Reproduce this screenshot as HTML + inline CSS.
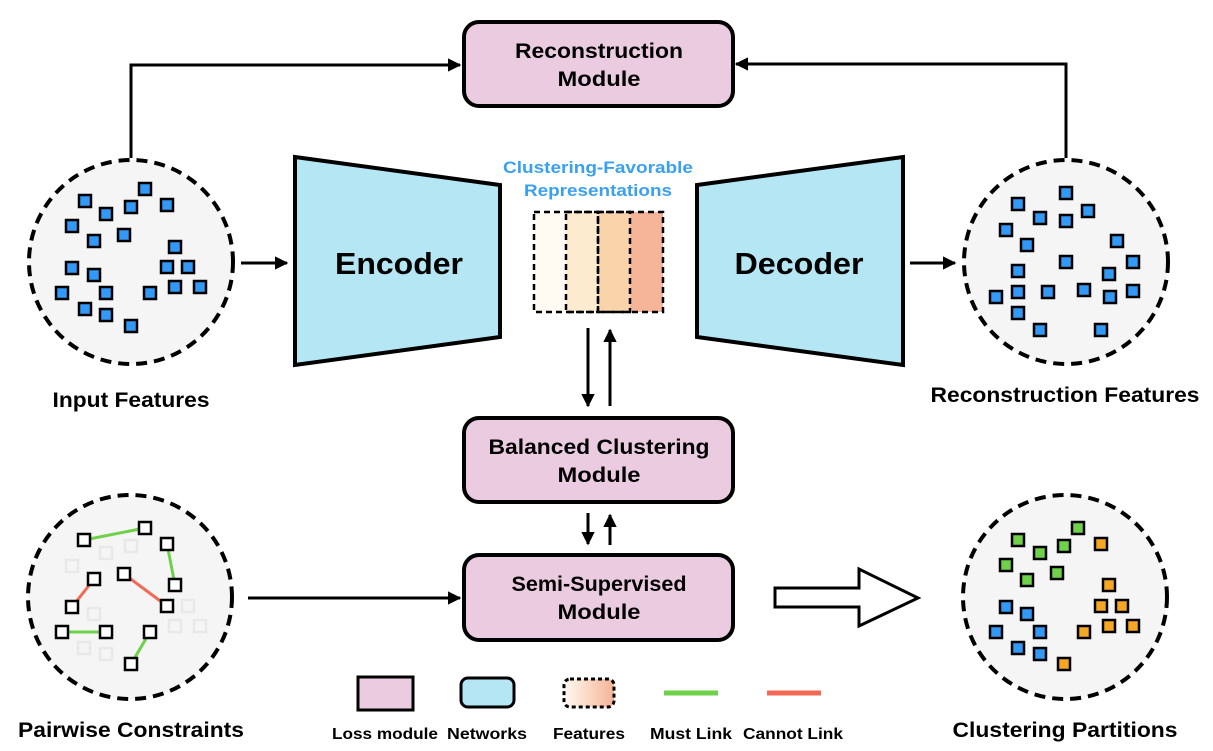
<!DOCTYPE html>
<html><head><meta charset="utf-8"><style>
html,body{margin:0;padding:0;background:#fff;}
svg{display:block;font-family:"Liberation Sans",Arial,sans-serif;font-weight:bold;}
</style></head><body>
<svg width="1213" height="751" viewBox="0 0 1213 751" xmlns="http://www.w3.org/2000/svg">
<defs>
<marker id="ah" viewBox="0 0 10 10" refX="9" refY="5" markerWidth="4.5" markerHeight="4.5" orient="auto"><path d="M0,0 L10,5 L0,10 z" fill="#000"/></marker>
<linearGradient id="fg" x1="0" x2="1"><stop offset="0" stop-color="#fffaf2"/><stop offset="1" stop-color="#f5b496"/></linearGradient>
</defs>

<g fill="#f5f5f5" stroke="#000" stroke-width="4" stroke-dasharray="11,7">
<circle cx="131" cy="262" r="102"/>
<circle cx="1066" cy="262" r="102"/>
<circle cx="130" cy="597" r="102"/>
<circle cx="1065" cy="597" r="102"/>
</g>

<g fill="#3399f7" stroke="#000" stroke-width="2.5">
<rect x="139" y="183" width="12" height="12"/><rect x="79" y="195" width="12" height="12"/><rect x="125" y="201" width="12" height="12"/><rect x="161" y="199" width="12" height="12"/><rect x="100" y="208" width="12" height="12"/><rect x="66" y="220" width="12" height="12"/><rect x="118" y="229" width="12" height="12"/><rect x="88" y="235" width="12" height="12"/><rect x="169" y="241" width="12" height="12"/><rect x="66" y="262" width="12" height="12"/><rect x="88" y="269" width="12" height="12"/><rect x="161" y="261" width="12" height="12"/><rect x="182" y="261" width="12" height="12"/><rect x="56" y="287" width="12" height="12"/><rect x="100" y="287" width="12" height="12"/><rect x="144" y="287" width="12" height="12"/><rect x="169" y="281" width="12" height="12"/><rect x="194" y="281" width="12" height="12"/><rect x="79" y="303" width="12" height="12"/><rect x="100" y="309" width="12" height="12"/><rect x="125" y="320" width="12" height="12"/>
</g>
<g fill="#3399f7" stroke="#000" stroke-width="2.5">
<rect x="1060" y="187" width="12" height="12"/><rect x="1012" y="198" width="12" height="12"/><rect x="1082" y="205" width="12" height="12"/><rect x="1034" y="212" width="12" height="12"/><rect x="1060" y="215" width="12" height="12"/><rect x="1000" y="224" width="12" height="12"/><rect x="1021" y="239" width="12" height="12"/><rect x="1111" y="235" width="12" height="12"/><rect x="1060" y="256" width="12" height="12"/><rect x="1127" y="256" width="12" height="12"/><rect x="1012" y="265" width="12" height="12"/><rect x="1103" y="268" width="12" height="12"/><rect x="1012" y="286" width="12" height="12"/><rect x="1042" y="286" width="12" height="12"/><rect x="1078" y="284" width="12" height="12"/><rect x="1127" y="285" width="12" height="12"/><rect x="990" y="291" width="12" height="12"/><rect x="1104" y="291" width="12" height="12"/><rect x="1012" y="307" width="12" height="12"/><rect x="1034" y="324" width="12" height="12"/><rect x="1095" y="324" width="12" height="12"/>
</g>

<g fill="none" stroke="#e8e8e8" stroke-width="2.5">
<rect x="100" y="547" width="12" height="12"/><rect x="125" y="540" width="12" height="12"/><rect x="66" y="560" width="12" height="12"/><rect x="88" y="608" width="12" height="12"/><rect x="182" y="600" width="12" height="12"/><rect x="169" y="620" width="12" height="12"/><rect x="194" y="620" width="12" height="12"/><rect x="78" y="642" width="12" height="12"/><rect x="100" y="648" width="12" height="12"/>
</g>
<g stroke-width="3">
<line x1="84" y1="540" x2="145" y2="528" stroke="#6fd14a"/>
<line x1="167" y1="544" x2="175" y2="585" stroke="#6fd14a"/>
<line x1="62" y1="632" x2="106" y2="632" stroke="#6fd14a"/>
<line x1="150" y1="632" x2="131" y2="664" stroke="#6fd14a"/>
<line x1="94" y1="579" x2="72" y2="607" stroke="#f26a55"/>
<line x1="124" y1="574" x2="167" y2="606" stroke="#f26a55"/>
</g>
<g fill="#fff" stroke="#000" stroke-width="2.5">
<rect x="78" y="534" width="12" height="12"/><rect x="139" y="522" width="12" height="12"/><rect x="161" y="538" width="12" height="12"/><rect x="169" y="579" width="12" height="12"/><rect x="118" y="568" width="12" height="12"/><rect x="161" y="600" width="12" height="12"/><rect x="88" y="573" width="12" height="12"/><rect x="66" y="601" width="12" height="12"/><rect x="56" y="626" width="12" height="12"/><rect x="100" y="626" width="12" height="12"/><rect x="144" y="626" width="12" height="12"/><rect x="125" y="658" width="12" height="12"/>
</g>

<g stroke="#000" stroke-width="2.5">
<g fill="#6fd14a"><rect x="1072" y="522" width="12" height="12"/><rect x="1012" y="534" width="12" height="12"/><rect x="1058" y="540" width="12" height="12"/><rect x="1034" y="547" width="12" height="12"/><rect x="1000" y="559" width="12" height="12"/><rect x="1051" y="567" width="12" height="12"/><rect x="1021" y="574" width="12" height="12"/></g>
<g fill="#f5a623"><rect x="1095" y="538" width="12" height="12"/><rect x="1103" y="579" width="12" height="12"/><rect x="1095" y="600" width="12" height="12"/><rect x="1116" y="600" width="12" height="12"/><rect x="1103" y="620" width="12" height="12"/><rect x="1127" y="620" width="12" height="12"/><rect x="1078" y="626" width="12" height="12"/><rect x="1058" y="658" width="12" height="12"/></g>
<g fill="#3399f7"><rect x="1000" y="601" width="12" height="12"/><rect x="1021" y="608" width="12" height="12"/><rect x="990" y="626" width="12" height="12"/><rect x="1034" y="626" width="12" height="12"/><rect x="1012" y="642" width="12" height="12"/><rect x="1034" y="648" width="12" height="12"/></g>
</g>

<polygon points="295,157 500,185 500,337 295,365" fill="#b5e6f4" stroke="#000" stroke-width="4"/>
<polygon points="697,185 903,157 903,365 697,337" fill="#b5e6f4" stroke="#000" stroke-width="4"/>
<text x="399" y="274" font-size="31" text-anchor="middle" textLength="128" lengthAdjust="spacingAndGlyphs">Encoder</text>
<text x="799" y="274" font-size="31" text-anchor="middle" textLength="129" lengthAdjust="spacingAndGlyphs">Decoder</text>

<rect x="534" y="212" width="32" height="100" fill="#fffaf2"/>
<rect x="566" y="212" width="32" height="100" fill="#fdebd0"/>
<rect x="598" y="212" width="32" height="100" fill="#f9d3a9"/>
<rect x="630" y="212" width="33" height="100" fill="#f6b498"/>
<g fill="none" stroke="#000" stroke-width="2.5" stroke-dasharray="6,4">
<rect x="534" y="212" width="64" height="100"/>
<rect x="566" y="212" width="64" height="100"/>
<rect x="598" y="212" width="65" height="100"/>
</g>
<text x="598" y="173" font-size="17" fill="#3aa0ef" text-anchor="middle" textLength="190" lengthAdjust="spacingAndGlyphs">Clustering-Favorable</text>
<text x="598" y="196" font-size="17" fill="#3aa0ef" text-anchor="middle" textLength="148" lengthAdjust="spacingAndGlyphs">Representations</text>

<g fill="#ebcbe0" stroke="#000" stroke-width="4">
<rect x="464" y="22" width="269" height="84" rx="15"/>
<rect x="464" y="418" width="269" height="84" rx="15"/>
<rect x="464" y="555" width="269" height="85" rx="15"/>
</g>
<g font-size="21" text-anchor="middle" lengthAdjust="spacingAndGlyphs">
<text x="599" y="58" textLength="168" lengthAdjust="spacingAndGlyphs">Reconstruction</text><text x="599" y="86" textLength="83" lengthAdjust="spacingAndGlyphs">Module</text>
<text x="599" y="454" textLength="221" lengthAdjust="spacingAndGlyphs">Balanced Clustering</text><text x="599" y="482" textLength="83" lengthAdjust="spacingAndGlyphs">Module</text>
<text x="599" y="591" textLength="175" lengthAdjust="spacingAndGlyphs">Semi-Supervised</text><text x="599" y="619" textLength="83" lengthAdjust="spacingAndGlyphs">Module</text>
</g>

<g fill="none" stroke="#000" stroke-width="3" marker-end="url(#ah)">
<polyline points="131,158 131,65 460,65"/>
<polyline points="1066,158 1066,64 736,64"/>
<line x1="241" y1="263" x2="287" y2="263"/>
<line x1="910" y1="263" x2="955" y2="263"/>
<line x1="588" y1="328" x2="588" y2="406"/>
<line x1="610" y1="406" x2="610" y2="330"/>
<line x1="588" y1="513" x2="588" y2="544"/>
<line x1="610" y1="545" x2="610" y2="515"/>
<line x1="248" y1="598" x2="460" y2="598"/>
</g>
<polygon points="775,588 859,588 859,569 918,598 859,626 859,607 775,607" fill="#fff" stroke="#000" stroke-width="3"/>

<g font-size="21" text-anchor="middle">
<text x="131" y="407" textLength="157" lengthAdjust="spacingAndGlyphs">Input Features</text>
<text x="1065" y="402" textLength="269" lengthAdjust="spacingAndGlyphs">Reconstruction Features</text>
<text x="131" y="737" textLength="226" lengthAdjust="spacingAndGlyphs">Pairwise Constraints</text>
<text x="1065" y="737" textLength="225" lengthAdjust="spacingAndGlyphs">Clustering Partitions</text>
</g>

<rect x="358" y="677" width="55" height="33" fill="#ebcbe0" stroke="#000" stroke-width="3"/>
<rect x="461" y="678" width="53" height="29" rx="7" fill="#b5e6f4" stroke="#000" stroke-width="3"/>
<rect x="564" y="679" width="50" height="28" rx="6" fill="url(#fg)" stroke="#000" stroke-width="3" stroke-dasharray="4,3"/>
<line x1="664" y1="693" x2="718" y2="693" stroke="#6fd14a" stroke-width="5"/>
<line x1="767" y1="693" x2="821" y2="693" stroke="#f26a55" stroke-width="5"/>
<g font-size="16" text-anchor="middle">
<text x="385" y="739" textLength="106" lengthAdjust="spacingAndGlyphs">Loss module</text>
<text x="487" y="739" textLength="80" lengthAdjust="spacingAndGlyphs">Networks</text>
<text x="589" y="739" textLength="72" lengthAdjust="spacingAndGlyphs">Features</text>
<text x="691" y="739" textLength="82" lengthAdjust="spacingAndGlyphs">Must Link</text>
<text x="793" y="739" textLength="100" lengthAdjust="spacingAndGlyphs">Cannot Link</text>
</g>
</svg>
</body></html>
